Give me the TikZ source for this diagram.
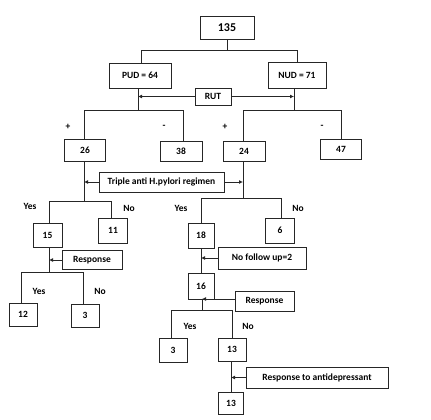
\documentclass[tikz,border=0pt]{standalone}
\usepackage{fontspec}
\setmainfont{Carlito}
\usetikzlibrary{arrows.meta}
\tikzset{
  box/.style={rectangle,draw=black!85,line width=0.8pt,inner sep=1pt,
    font=\fontsize{9.5}{11}\selectfont\bfseries},
  lbl/.style={inner sep=0pt,font=\fontsize{9.5}{11}\selectfont\bfseries},
  arr/.style={-{Latex[length=4pt,width=4pt]}},
}
\begin{document}
\begin{tikzpicture}[x=1pt,y=-1pt,line width=0.8pt,draw=black!85]
    \useasboundingbox (0,0) rectangle (431,420);

    % Top of the tree
    \node[box,minimum width=54pt,minimum height=23pt,font=\fontsize{12}{14}\selectfont\bfseries] (n135) at (227,27.5) {135};
    \node[box,minimum width=62pt,minimum height=25pt] (pud) at (140,75.5) {PUD = 64};
    \node[box,minimum width=58pt,minimum height=26pt] (nud) at (297,75) {NUD = 71};
    \node[box,minimum width=36pt,minimum height=17pt] (rut) at (213,96.5) {RUT};

    % After RUT
    \node[box,minimum width=41pt,minimum height=22pt] (b26) at (85,150) {26};
    \node[box,minimum width=42pt,minimum height=20pt] (b38) at (181,151) {38};
    \node[box,minimum width=42pt,minimum height=20pt] (b24) at (244,151) {24};
    \node[box,minimum width=41pt,minimum height=20pt] (b47) at (341,149) {47};
    \node[lbl] (plus1) at (68,127) {+};
    \node[lbl] (minus1) at (164,127) {-};
    \node[lbl] (plus2) at (225,127) {+};
    \node[lbl] (minus2) at (322,127) {-};

    % Triple therapy
    \node[box,minimum width=125pt,minimum height=20pt] (triple) at (161.5,182) {Triple anti H.pylori regimen};
    \node[box,minimum width=29pt,minimum height=24pt] (b15) at (47.5,235) {15};
    \node[box,minimum width=29pt,minimum height=25pt] (b11) at (113,230.5) {11};
    \node[box,minimum width=26pt,minimum height=25pt] (b18) at (201,235.5) {18};
    \node[box,minimum width=29pt,minimum height=25pt] (b6) at (280,230.5) {6};
    \node[lbl] (yes1) at (30,206) {Yes};
    \node[lbl] (no1) at (129,208) {No};
    \node[lbl] (yes2) at (181,208) {Yes};
    \node[lbl] (no2) at (298,208) {No};

    % Left branch
    \node[box,minimum width=60pt,minimum height=19pt] (respA) at (92,260) {Response};
    \node[box,minimum width=28pt,minimum height=23pt] (b12) at (23,314.5) {12};
    \node[box,minimum width=28pt,minimum height=23pt] (b3a) at (85,315.5) {3};
    \node[lbl] (yes3) at (39,291) {Yes};
    \node[lbl] (no3) at (100,291) {No};

    % Right branch
    \node[box,minimum width=88pt,minimum height=22pt] (nofollow) at (262,258) {No follow up=2};
    \node[box,minimum width=26pt,minimum height=26pt] (b16) at (201,286) {16};
    \node[box,minimum width=59pt,minimum height=20pt] (resp2) at (264.5,301) {Response};
    \node[box,minimum width=28pt,minimum height=24pt] (b3b) at (173,350) {3};
    \node[box,minimum width=28pt,minimum height=23pt] (b13a) at (232,349.5) {13};
    \node[lbl] (yes4) at (190,326) {Yes};
    \node[lbl] (no4) at (248,326) {No};
    \node[box,minimum width=142pt,minimum height=21pt] (anti) at (317,377.5) {Response to antidepressant};
    \node[box,minimum width=25pt,minimum height=22pt] (b13b) at (231,403) {13};

    % Branch points
    \coordinate (t0) at (227,50);
    \coordinate (t1) at (138,110);
    \coordinate (t2) at (294,110);
    \coordinate (t3) at (84,201);
    \coordinate (t4) at (243,198);
    \coordinate (t5) at (49,272);
    \coordinate (t6) at (202,310);

    \draw (n135) -- (t0);
    \draw (t0) -| (pud.north -| 141,0);
    \draw (t0) -| (nud.north);

    \draw (pud.south -| t1) -- (t1);
    \draw (nud.south -| t2) -- (t2);
    \draw (t1) -| (b26.north -| t3);
    \draw (t1) -| (b38.north -| 183,0);
    \draw (t2) -| (b24.north -| t4);
    \draw (t2) -| (b47.north);
    \draw[arr] (rut.west) -- (rut.west -| t1);
    \draw[arr] (rut.east) -- (rut.east -| t2);

    \draw (b26.south -| t3) -- (t3);
    \draw (b24.south -| t4) -- (t4);
    \draw (t3) -| (b15.north -| t5);
    \draw (t3) -| (b11.north -| 111,0);
    \draw (t4) -| (b18.north);
    \draw (t4) -| (b6.north -| 281,0);
    \draw[arr] (triple.west) -- (triple.west -| t3);
    \draw[arr] (triple.east) -- (triple.east -| t4);

    % Left: response
    \draw (b15.south -| t5) -- (t5);
    \draw (t5) -| (b12.north -| 21,0);
    \draw (t5) -| (b3a.north -| 83,0);
    \draw[arr] (respA.west) -- (respA.west -| t5);

    % Right: follow up and response
    \draw (b18) -- (b16);
    \draw[arr] (nofollow.west) -- (nofollow.west -| b18);
    \draw (b16.south -| t6) -- (t6);
    \draw (t6) -| (b3b.north -| 171,0);
    \draw (t6) -| (b13a.north);
    \draw[arr] ([yshift=2pt]resp2.west) -- ([yshift=2pt]resp2.west -| t6);
    \draw (b13a.south -| b13b) -- (b13b.north);
    \draw[arr] (anti.west) -- (anti.west -| b13b);
\end{tikzpicture}
\end{document}
